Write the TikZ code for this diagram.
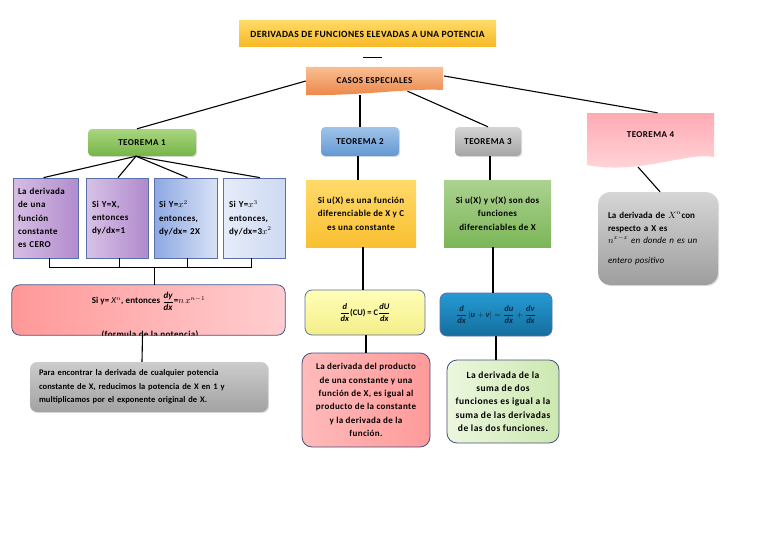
\documentclass[tikz,border=0pt]{standalone}
\usepackage{fontspec}
\setmainfont{Carlito}
\newfontfamily\lsA[LetterSpace=4]{Carlito}
\newfontfamily\lsB[LetterSpace=5]{Carlito}
\newfontfamily\lsC[LetterSpace=1]{Carlito}
\usepackage{amsmath}
\usetikzlibrary{calc,shadows}
\definecolor{bordnavy}{HTML}{44507E}
\definecolor{bordblue}{HTML}{5B6FA8}
\newcommand{\ti}[1]{\textit{#1}}
\begin{document}
\begin{tikzpicture}[x=1pt,y=-1pt,
  every node/.style={font=\lsA\bfseries\fontsize{9}{13.3}\selectfont, inner sep=0pt},
  lab/.style={font=\lsB\bfseries\fontsize{9}{11}\selectfont},
  conn/.style={line width=1.1pt, black},
  thin conn/.style={line width=0.9pt, black},
  tbox/.style={rounded corners=4pt, align=center, lab},
  sbox/.style={align=left, inner xsep=6pt, draw=bordblue, line width=0.7pt},
  shadowed/.style={drop shadow={opacity=0.25, shadow xshift=1.2pt, shadow yshift=-1.2pt}}]
\useasboundingbox (0,0) rectangle (768,543);

% title
\node[minimum width=257pt, minimum height=26pt, top color={rgb,255:red,255;green,218;blue,102}, bottom color={rgb,255:red,246;green,184;blue,38}, font=\lsA\bfseries\fontsize{9.5}{11}\selectfont] (title) at (367.5,34) {DERIVADAS DE FUNCIONES ELEVADAS A UNA POTENCIA};
\coordinate (dl) at (363,57);
\coordinate (dr) at (382,57);
\draw[line width=0.9pt] (dl) -- (dr);

% casos especiales
\shade[top color={rgb,255:red,249;green,190;blue,146}, bottom color={rgb,255:red,236;green,134;blue,72}]
  (306,67) -- (443,67) -- (443,90) .. controls (410,88) and (360,96) .. (306,95) -- cycle;
\node[lab, minimum width=137pt, minimum height=28pt] (casos) at (374.5,81) {CASOS ESPECIALES};

% teoremas
\node[tbox, shadowed, minimum width=108pt, minimum height=27pt, top color={rgb,255:red,170;green,214;blue,128}, bottom color={rgb,255:red,118;green,180;blue,72}] (T1) at (142,142.5) {TEOREMA 1};
\node[tbox, shadowed, minimum width=78pt, minimum height=29pt, top color={rgb,255:red,160;green,196;blue,232}, bottom color={rgb,255:red,100;green,152;blue,212}] (T2) at (360,141.5) {TEOREMA 2};
\node[tbox, shadowed, minimum width=66pt, minimum height=29pt, top color={rgb,255:red,212;green,212;blue,212}, bottom color={rgb,255:red,165;green,165;blue,165}] (T3) at (488,141.5) {TEOREMA 3};
\shade[top color={rgb,255:red,255;green,170;blue,178}, bottom color={rgb,255:red,255;green,218;blue,221}]
  (587,113) -- (714,113) -- (714,157) .. controls (685,152) and (640,175) .. (587,165) -- cycle;
\node[lab, minimum width=127pt, minimum height=44pt] (T4) at (650.5,135) {TEOREMA 4};

% teorema 1 children
\node[sbox, minimum width=65pt, minimum height=80pt, text width=55pt, inner xsep=5pt, left color={rgb,255:red,214;green,190;blue,228}, right color={rgb,255:red,178;green,140;blue,206}] (b1) at (45.5,218)
  {La derivada\\de una\\función\\constante\\es CERO};
\node[sbox, minimum width=62pt, minimum height=80pt, text width=50pt, left color={rgb,255:red,216;green,194;blue,230}, right color={rgb,255:red,176;green,138;blue,204}] (b2) at (117,218)
  {Si Y=X,\\entonces\\dy/dx=1};
\node[sbox, minimum width=63pt, minimum height=80pt, text width=53pt, inner xsep=5pt, left color={rgb,255:red,142;green,168;blue,226}, right color={rgb,255:red,216;green,226;blue,246}] (b3) at (185.5,218)
  {Si Y=$x^{2}$\\entonces,\\dy/dx= 2X};
\node[sbox, minimum width=62pt, minimum height=80pt, text width=50pt, left color={rgb,255:red,230;green,236;blue,249}, right color={rgb,255:red,206;green,218;blue,242}] (b4) at (254,218)
  {Si Y=$x^{3}$\\entonces,\\dy/dx=3$x^{2}$};

% formula de la potencia
\node[minimum width=273pt, minimum height=50pt, rounded corners=8pt, left color={rgb,255:red,255;green,152;blue,152}, right color={rgb,255:red,255;green,206;blue,208}] (F1) at (148.5,310) {};
\begin{scope}
  \clip[rounded corners=8pt] (F1.south west) rectangle (F1.north east);
  \node[font=\lsC\bfseries\fontsize{9}{10}\selectfont] (F1a) at (148.5,301) {Si y= $\mathit{X}^{n}$, entonces $\dfrac{\ti{dy}}{\ti{dx}}$=$n\,x^{n-1}$};
  \node[anchor=base] (F1b) at (150,337.5) {(formula de la potencia)};
\end{scope}
\draw[bordnavy, line width=0.8pt, rounded corners=8pt] (F1.south west) rectangle (F1.north east);

\node[shadowed, minimum width=238pt, minimum height=50pt, rounded corners=7pt, align=left, text width=220pt, font=\lsC\bfseries\fontsize{8.5}{13.3}\selectfont, top color={rgb,255:red,204;green,204;blue,204}, bottom color={rgb,255:red,162;green,162;blue,162}] (G1) at (149,387)
  {Para encontrar la derivada de cualquier potencia\\constante de X, reducimos la potencia de X en 1 y\\multiplicamos por el exponente original de X.};

% teorema 2 children
\node[minimum width=110pt, minimum height=67pt, align=center, top color={rgb,255:red,255;green,218;blue,106}, bottom color={rgb,255:red,249;green,192;blue,49}] (Y2) at (361,213.5)
  {Si u(X) es una función\\diferenciable de X y C\\es una constante};
\node[minimum width=120pt, minimum height=45pt, rounded corners=7pt, draw=bordblue, line width=0.8pt, font=\bfseries\fontsize{8.5}{10}\selectfont, top color={rgb,255:red,255;green,255;blue,184}, bottom color={rgb,255:red,244;green,238;blue,136}] (F2) at (365,312.5)
  {$\dfrac{\ti{d}}{\ti{dx}}$(CU) = C$\dfrac{\ti{dU}}{\ti{dx}}$};
\node[minimum width=128pt, minimum height=94pt, rounded corners=10pt, draw=bordnavy, line width=0.8pt, align=center, left color={rgb,255:red,255;green,186;blue,186}, right color={rgb,255:red,255;green,154;blue,154}] (P2) at (366,400)
  {La derivada del producto\\de una constante y una\\función de X, es igual al\\producto de la constante\\y la derivada de la\\función.};

% teorema 3 children
\node[minimum width=107pt, minimum height=67pt, align=center, top color={rgb,255:red,172;green,210;blue,144}, bottom color={rgb,255:red,124;green,182;blue,88}] (G3) at (497.5,213.5)
  {Si u(X) y v(X) son dos\\funciones\\diferenciables de X};
\node[minimum width=112pt, minimum height=43pt, rounded corners=7pt, draw=bordblue, line width=0.8pt, font=\bfseries\fontsize{8.5}{10}\selectfont, text={rgb,255:red,10;green,40;blue,70}, top color={rgb,255:red,38;green,154;blue,210}, bottom color={rgb,255:red,20;green,110;blue,158}] (B3) at (496,314.5)
  {$\dfrac{\ti{d}}{\ti{dx}}\left|\ti{u}+\ti{v}\right|=\dfrac{\ti{du}}{\ti{dx}}+\dfrac{\ti{dv}}{\ti{dx}}$};
\node[minimum width=112pt, minimum height=83pt, rounded corners=10pt, draw=bordnavy, line width=0.8pt, align=center, font=\lsB\bfseries\fontsize{9.5}{13.3}\selectfont, left color={rgb,255:red,236;green,247;blue,222}, right color={rgb,255:red,204;green,232;blue,176}] (L3) at (503,401.5)
  {La derivada de la\\suma de dos\\funciones es igual a la\\suma de las derivadas\\de las dos funciones.};

% teorema 4 child
\node[shadowed, minimum width=120pt, minimum height=93pt, rounded corners=12pt, align=left, text width=100pt, font=\lsC\bfseries\fontsize{9}{12.5}\selectfont, top color={rgb,255:red,214;green,214;blue,214}, bottom color={rgb,255:red,158;green,158;blue,158}] (C4) at (658,238.5)
  {La derivada de $X^{n}$con\\respecto a X es\\{\mdseries\itshape $n^{x-x}$ en donde n es un}\\[7pt]{\mdseries\itshape entero positivo}};

% connectors from casos
\draw[conn] (casos.west) -- ($(T1.north)+(-5,0)$);
\draw[conn] (casos.south -| T2.north) -- (T2.north);
\draw[conn] ($(casos.south)+(33,-4)$) -- (T3.north);
\draw[conn] ($(casos.east)+(1,-5)$) -- ($(T4.north)+(7,0)$);

% teorema 1 fan
\coordinate (t1s) at ($(T1.south)+(-6,0)$);
\draw[conn] (t1s) -- ($(b1.north)+(-2,0)$);
\draw[conn] (t1s) -- ($(b2.north)+(1,0)$);
\draw[conn] (t1s) -- ($(b3.north)+(2,0)$);
\draw[conn] (t1s) -- ($(b4.north)+(6,0)$);

% bracket
\coordinate (br1) at (49,267);
\coordinate (br2) at (119,267);
\coordinate (br3) at (187,267);
\coordinate (br4) at (251,267);
\coordinate (brm) at (154,267);
\draw[thin conn] (b1.south -| br1) -- (br1) -- (br4) -- (b4.south -| br4);
\draw[thin conn] (b2.south -| br2) -- (br2);
\draw[thin conn] (b3.south -| br3) -- (br3);
\draw[thin conn] (brm) -- (F1.north -| brm);
\draw[conn] ($(F1.south)+(-6,0)$) -- ($(G1.north)+(-7,0)$);

% teorema 2 chain
\draw[conn] (T2.south -| 358,0) -- (Y2.north -| 358,0);
\draw[conn] (Y2.south -| 363,0) -- (F2.north -| 363,0);
\draw[conn] (F2.south -| 366,0) -- (P2.north -| 366,0);

% teorema 3 chain
\draw[conn] (T3.south -| 490,0) -- (G3.north -| 490,0);
\draw[conn] (G3.south -| 493,0) -- (B3.north -| 493,0);
\draw[conn] (B3.south -| 496,0) -- (L3.north -| 496,0);

% teorema 4 chain
\coordinate (t4b) at (638,167);
\draw[conn] (t4b) -- ($(C4.north)+(2,0)$);
\end{tikzpicture}
\end{document}
